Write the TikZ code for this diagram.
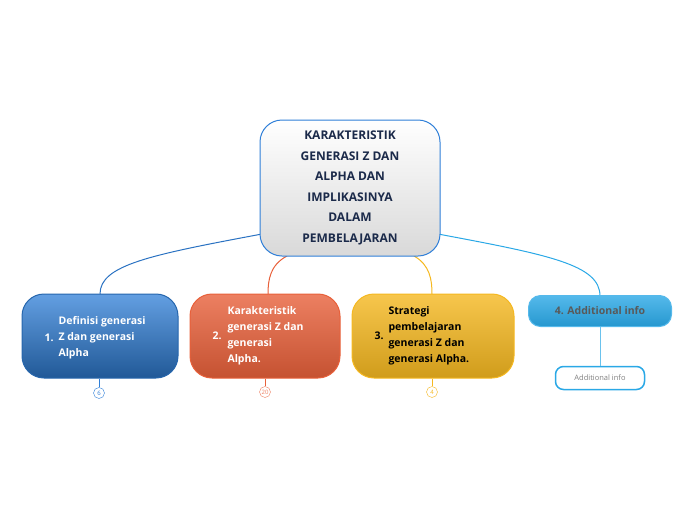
\documentclass[tikz,border=0pt]{standalone}
\usepackage{fontspec}
\setmainfont{Open Sans}
\usetikzlibrary{positioning}
\definecolor{navy}{HTML}{1B2A4A}
\definecolor{cblue}{HTML}{2F7FD8}
\definecolor{cred}{HTML}{E8603A}
\definecolor{cyel}{HTML}{F5B820}
\definecolor{ccyan}{HTML}{2AA8E6}
\tikzset{
 topic/.style={rounded corners=22pt, line width=1pt, align=left, inner sep=0pt},
 ttext/.style={align=left, font=\bfseries\fontsize{10.5}{16}\selectfont, anchor=west},
 tnum/.style={font=\bfseries\fontsize{10.5}{13}\selectfont},
 badge/.style={circle, draw, fill=white, minimum size=11pt, inner sep=0pt, font=\fontsize{6}{6}\selectfont},
 link/.style={line width=1pt}
}
\begin{document}
\begin{tikzpicture}[x=1pt,y=-1pt]
\useasboundingbox (0,0) rectangle (696,520);
% connectors
\draw[link, draw=cblue!90!black] (262,234) .. controls (150,255) and (100,265) .. (100,294);
\draw[link, draw=cred] (287,256) .. controls (270,265) and (268,280) .. (268,294);
\draw[link, draw=cyel] (414,256) .. controls (430,265) and (432,280) .. (432,294);
\draw[link, draw=ccyan] (438,234) .. controls (550,255) and (600,265) .. (600,296);
% central
\node[topic, draw=cblue, top color=white, bottom color=gray!30, minimum width=180pt, minimum height=136pt, align=center, text=navy, font=\bfseries\fontsize{12}{20.5}\selectfont] (c) at (350,188) {KARAKTERISTIK\\GENERASI Z DAN\\ALPHA DAN\\IMPLIKASINYA\\DALAM\\PEMBELAJARAN};
% topics
\node[topic, draw=cblue!80!black, top color=cblue!75!white, bottom color=cblue!70!black, minimum width=156pt, minimum height=84pt] (t1) at (100,336) {};
\node[tnum, text=white] (n1) at (49,338) {1.};
\node[ttext, text=white] (l1) at (55,338) {Definisi generasi\\Z dan generasi\\Alpha};
\node[topic, draw=cred, top color=cred!80!white, bottom color=cred!85!black, minimum width=150pt, minimum height=84pt] (t2) at (265,336) {};
\node[tnum, text=white] (n2) at (217,336) {2.};
\node[ttext, text=white] (l2) at (224,336) {Karakteristik\\generasi Z dan\\generasi\\Alpha.};
\node[topic, draw=cyel, top color=cyel!80!white, bottom color=cyel!85!black, minimum width=162pt, minimum height=84pt] (t3) at (433,336) {};
\node[tnum, text=black] (n3) at (379,336) {3.};
\node[ttext, text=black] (l3) at (385,336) {Strategi\\pembelajaran\\generasi Z dan\\generasi Alpha.};
\node[topic, rounded corners=12pt, draw=ccyan!80!white, top color=ccyan!80!white, bottom color=ccyan!90!black, minimum width=143pt, minimum height=31pt, align=center, text=gray!70!black, font=\bfseries\fontsize{10.5}{12}\selectfont] (t4) at (600,311) {4. Additional info};
\node[draw=ccyan, line width=1.5pt, fill=white, rounded corners=8pt, minimum width=89pt, minimum height=23pt, text=gray, font=\fontsize{7.5}{9}\selectfont] (s4) at (600,378) {Additional info};
\draw[ccyan!70!white, line width=0.8pt] (t4.south) -- (s4.north);
% badges
\node[badge, draw=cblue, text=cblue] (b1) at (99,393) {6};
\node[badge, draw=cred!80!white, text=cred!80!white] (b2) at (265,392) {20};
\node[badge, draw=cyel, text=cyel] (b3) at (432,392) {4};
\draw[cblue, line width=0.6pt] (t1.south -| b1) -- (b1);
\draw[cred, line width=0.6pt] (t2.south -| b2) -- (b2);
\draw[cyel, line width=0.6pt] (t3.south -| b3) -- (b3);
\end{tikzpicture}
\end{document}
